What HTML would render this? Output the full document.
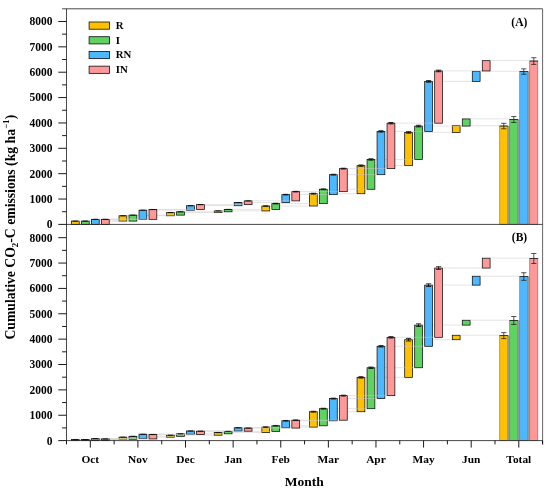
<!DOCTYPE html>
<html><head><meta charset="utf-8"><title>Cumulative CO2-C emissions</title>
<style>html,body{margin:0;padding:0;background:#fff}body{width:550px;height:494px;overflow:hidden}</style></head>
<body>
<svg width="550" height="494" viewBox="0 0 550 494" style="display:block">
<rect width="550" height="494" fill="#fff"/>
<g font-family="'Liberation Serif',serif" font-weight="bold" fill="#000">
<rect x="71.41" y="221.10" width="7.8" height="3.30" fill="#FFC000" stroke="#0d0d0d" stroke-width="0.75"/>
<rect x="119.01" y="215.78" width="7.8" height="5.33" fill="#FFC000" stroke="#0d0d0d" stroke-width="0.75"/>
<rect x="166.62" y="212.63" width="7.8" height="3.15" fill="#FFC000" stroke="#0d0d0d" stroke-width="0.75"/>
<rect x="214.23" y="210.93" width="7.8" height="1.70" fill="#FFC000" stroke="#0d0d0d" stroke-width="0.75"/>
<rect x="261.85" y="206.04" width="7.8" height="4.90" fill="#FFC000" stroke="#0d0d0d" stroke-width="0.75"/>
<rect x="309.46" y="193.71" width="7.8" height="12.33" fill="#FFC000" stroke="#0d0d0d" stroke-width="0.75"/>
<rect x="357.06" y="165.66" width="7.8" height="28.05" fill="#FFC000" stroke="#0d0d0d" stroke-width="0.75"/>
<rect x="404.68" y="132.43" width="7.8" height="33.23" fill="#FFC000" stroke="#0d0d0d" stroke-width="0.75"/>
<rect x="452.29" y="125.68" width="7.8" height="6.75" fill="#FFC000" stroke="#0d0d0d" stroke-width="0.75"/>
<rect x="507.85" y="126.04" width="1.90" height="98.36" fill="#a0a0a0"/>
<rect x="499.75" y="126.04" width="8.1" height="98.36" fill="#FFC000" stroke="#6a6a6a" stroke-width="0.6"/>
<line x1="499.45" x2="508.15" y1="126.04" y2="126.04" stroke="#1a1a1a" stroke-width="0.8"/>
<line x1="79.51" x2="118.71" y1="221.05" y2="221.05" stroke="#c8c8c8" stroke-opacity="0.62" stroke-width="0.8"/>
<line x1="127.11" x2="166.32" y1="215.73" y2="215.73" stroke="#c8c8c8" stroke-opacity="0.62" stroke-width="0.8"/>
<line x1="174.73" x2="213.93" y1="212.58" y2="212.58" stroke="#c8c8c8" stroke-opacity="0.62" stroke-width="0.8"/>
<line x1="222.34" x2="261.55" y1="210.88" y2="210.88" stroke="#c8c8c8" stroke-opacity="0.62" stroke-width="0.8"/>
<line x1="269.94" x2="309.16" y1="205.99" y2="205.99" stroke="#c8c8c8" stroke-opacity="0.62" stroke-width="0.8"/>
<line x1="317.56" x2="356.76" y1="193.66" y2="193.66" stroke="#c8c8c8" stroke-opacity="0.62" stroke-width="0.8"/>
<line x1="365.16" x2="404.38" y1="165.61" y2="165.61" stroke="#c8c8c8" stroke-opacity="0.62" stroke-width="0.8"/>
<line x1="412.77" x2="451.99" y1="132.38" y2="132.38" stroke="#c8c8c8" stroke-opacity="0.62" stroke-width="0.8"/>
<line x1="460.38" x2="499.60" y1="125.63" y2="125.63" stroke="#c8c8c8" stroke-opacity="0.62" stroke-width="0.8"/>
<rect x="81.41" y="221.10" width="7.8" height="3.30" fill="#5FD35F" stroke="#0d0d0d" stroke-width="0.75"/>
<rect x="129.01" y="215.14" width="7.8" height="5.96" fill="#5FD35F" stroke="#0d0d0d" stroke-width="0.75"/>
<rect x="176.62" y="211.82" width="7.8" height="3.32" fill="#5FD35F" stroke="#0d0d0d" stroke-width="0.75"/>
<rect x="224.23" y="209.43" width="7.8" height="2.38" fill="#5FD35F" stroke="#0d0d0d" stroke-width="0.75"/>
<rect x="271.85" y="203.65" width="7.8" height="5.78" fill="#5FD35F" stroke="#0d0d0d" stroke-width="0.75"/>
<rect x="319.46" y="189.27" width="7.8" height="14.38" fill="#5FD35F" stroke="#0d0d0d" stroke-width="0.75"/>
<rect x="367.06" y="159.47" width="7.8" height="29.80" fill="#5FD35F" stroke="#0d0d0d" stroke-width="0.75"/>
<rect x="414.68" y="126.09" width="7.8" height="33.38" fill="#5FD35F" stroke="#0d0d0d" stroke-width="0.75"/>
<rect x="462.29" y="118.93" width="7.8" height="7.15" fill="#5FD35F" stroke="#0d0d0d" stroke-width="0.75"/>
<rect x="517.85" y="119.52" width="1.90" height="104.88" fill="#a0a0a0"/>
<rect x="509.75" y="119.52" width="8.1" height="104.88" fill="#5FD35F" stroke="#6a6a6a" stroke-width="0.6"/>
<line x1="509.45" x2="518.14" y1="119.52" y2="119.52" stroke="#1a1a1a" stroke-width="0.8"/>
<line x1="89.51" x2="128.71" y1="221.05" y2="221.05" stroke="#c8c8c8" stroke-opacity="0.62" stroke-width="0.8"/>
<line x1="137.12" x2="176.32" y1="215.09" y2="215.09" stroke="#c8c8c8" stroke-opacity="0.62" stroke-width="0.8"/>
<line x1="184.73" x2="223.93" y1="211.77" y2="211.77" stroke="#c8c8c8" stroke-opacity="0.62" stroke-width="0.8"/>
<line x1="232.34" x2="271.55" y1="209.38" y2="209.38" stroke="#c8c8c8" stroke-opacity="0.62" stroke-width="0.8"/>
<line x1="279.94" x2="319.16" y1="203.60" y2="203.60" stroke="#c8c8c8" stroke-opacity="0.62" stroke-width="0.8"/>
<line x1="327.56" x2="366.76" y1="189.22" y2="189.22" stroke="#c8c8c8" stroke-opacity="0.62" stroke-width="0.8"/>
<line x1="375.16" x2="414.38" y1="159.42" y2="159.42" stroke="#c8c8c8" stroke-opacity="0.62" stroke-width="0.8"/>
<line x1="422.77" x2="461.99" y1="126.04" y2="126.04" stroke="#c8c8c8" stroke-opacity="0.62" stroke-width="0.8"/>
<line x1="470.38" x2="509.60" y1="118.88" y2="118.88" stroke="#c8c8c8" stroke-opacity="0.62" stroke-width="0.8"/>
<rect x="91.41" y="219.33" width="7.8" height="5.07" fill="#4DB8FF" stroke="#0d0d0d" stroke-width="0.75"/>
<rect x="139.01" y="210.20" width="7.8" height="9.13" fill="#4DB8FF" stroke="#0d0d0d" stroke-width="0.75"/>
<rect x="186.62" y="205.73" width="7.8" height="4.46" fill="#4DB8FF" stroke="#0d0d0d" stroke-width="0.75"/>
<rect x="234.23" y="202.59" width="7.8" height="3.15" fill="#4DB8FF" stroke="#0d0d0d" stroke-width="0.75"/>
<rect x="281.85" y="194.65" width="7.8" height="7.94" fill="#4DB8FF" stroke="#0d0d0d" stroke-width="0.75"/>
<rect x="329.46" y="174.69" width="7.8" height="19.96" fill="#4DB8FF" stroke="#0d0d0d" stroke-width="0.75"/>
<rect x="377.06" y="131.41" width="7.8" height="43.27" fill="#4DB8FF" stroke="#0d0d0d" stroke-width="0.75"/>
<rect x="424.68" y="81.39" width="7.8" height="50.02" fill="#4DB8FF" stroke="#0d0d0d" stroke-width="0.75"/>
<rect x="472.29" y="71.32" width="7.8" height="10.07" fill="#4DB8FF" stroke="#0d0d0d" stroke-width="0.75"/>
<rect x="527.85" y="71.55" width="1.90" height="152.85" fill="#a0a0a0"/>
<rect x="519.75" y="71.55" width="8.1" height="152.85" fill="#4DB8FF" stroke="#6a6a6a" stroke-width="0.6"/>
<line x1="519.45" x2="528.15" y1="71.55" y2="71.55" stroke="#1a1a1a" stroke-width="0.8"/>
<line x1="99.51" x2="138.71" y1="219.28" y2="219.28" stroke="#c8c8c8" stroke-opacity="0.62" stroke-width="0.8"/>
<line x1="147.12" x2="186.32" y1="210.15" y2="210.15" stroke="#c8c8c8" stroke-opacity="0.62" stroke-width="0.8"/>
<line x1="194.73" x2="233.93" y1="205.68" y2="205.68" stroke="#c8c8c8" stroke-opacity="0.62" stroke-width="0.8"/>
<line x1="242.34" x2="281.55" y1="202.54" y2="202.54" stroke="#c8c8c8" stroke-opacity="0.62" stroke-width="0.8"/>
<line x1="289.94" x2="329.16" y1="194.60" y2="194.60" stroke="#c8c8c8" stroke-opacity="0.62" stroke-width="0.8"/>
<line x1="337.56" x2="376.76" y1="174.64" y2="174.64" stroke="#c8c8c8" stroke-opacity="0.62" stroke-width="0.8"/>
<line x1="385.16" x2="424.38" y1="131.36" y2="131.36" stroke="#c8c8c8" stroke-opacity="0.62" stroke-width="0.8"/>
<line x1="432.77" x2="471.99" y1="81.34" y2="81.34" stroke="#c8c8c8" stroke-opacity="0.62" stroke-width="0.8"/>
<line x1="480.38" x2="519.60" y1="71.27" y2="71.27" stroke="#c8c8c8" stroke-opacity="0.62" stroke-width="0.8"/>
<rect x="101.41" y="219.33" width="7.8" height="5.07" fill="#FF9999" stroke="#0d0d0d" stroke-width="0.75"/>
<rect x="149.01" y="209.56" width="7.8" height="9.77" fill="#FF9999" stroke="#0d0d0d" stroke-width="0.75"/>
<rect x="196.62" y="204.64" width="7.8" height="4.92" fill="#FF9999" stroke="#0d0d0d" stroke-width="0.75"/>
<rect x="244.23" y="200.89" width="7.8" height="3.75" fill="#FF9999" stroke="#0d0d0d" stroke-width="0.75"/>
<rect x="291.85" y="191.65" width="7.8" height="9.23" fill="#FF9999" stroke="#0d0d0d" stroke-width="0.75"/>
<rect x="339.46" y="168.65" width="7.8" height="23.01" fill="#FF9999" stroke="#0d0d0d" stroke-width="0.75"/>
<rect x="387.06" y="123.19" width="7.8" height="45.45" fill="#FF9999" stroke="#0d0d0d" stroke-width="0.75"/>
<rect x="434.68" y="70.94" width="7.8" height="52.25" fill="#FF9999" stroke="#0d0d0d" stroke-width="0.75"/>
<rect x="482.29" y="60.67" width="7.8" height="10.27" fill="#FF9999" stroke="#0d0d0d" stroke-width="0.75"/>
<rect x="529.75" y="61.05" width="8.1" height="163.35" fill="#FF9999" stroke="#6a6a6a" stroke-width="0.6"/>
<line x1="529.45" x2="538.15" y1="61.05" y2="61.05" stroke="#1a1a1a" stroke-width="0.8"/>
<line x1="109.51" x2="148.71" y1="219.28" y2="219.28" stroke="#c8c8c8" stroke-opacity="0.62" stroke-width="0.8"/>
<line x1="157.12" x2="196.32" y1="209.51" y2="209.51" stroke="#c8c8c8" stroke-opacity="0.62" stroke-width="0.8"/>
<line x1="204.73" x2="243.93" y1="204.59" y2="204.59" stroke="#c8c8c8" stroke-opacity="0.62" stroke-width="0.8"/>
<line x1="252.34" x2="291.55" y1="200.84" y2="200.84" stroke="#c8c8c8" stroke-opacity="0.62" stroke-width="0.8"/>
<line x1="299.94" x2="339.16" y1="191.60" y2="191.60" stroke="#c8c8c8" stroke-opacity="0.62" stroke-width="0.8"/>
<line x1="347.56" x2="386.76" y1="168.60" y2="168.60" stroke="#c8c8c8" stroke-opacity="0.62" stroke-width="0.8"/>
<line x1="395.16" x2="434.38" y1="123.14" y2="123.14" stroke="#c8c8c8" stroke-opacity="0.62" stroke-width="0.8"/>
<line x1="442.77" x2="481.99" y1="70.89" y2="70.89" stroke="#c8c8c8" stroke-opacity="0.62" stroke-width="0.8"/>
<line x1="490.38" x2="529.60" y1="60.62" y2="60.62" stroke="#c8c8c8" stroke-opacity="0.62" stroke-width="0.8"/>
<path d="M75.31 221.00V221.20M72.71 221.00H77.91M72.71 221.20H77.91" stroke="#000" stroke-width="0.5" fill="none"/>
<path d="M122.91 215.66V215.90M120.31 215.66H125.51M120.31 215.90H125.51" stroke="#000" stroke-width="0.5" fill="none"/>
<path d="M170.53 212.48V212.78M167.93 212.48H173.12M167.93 212.78H173.12" stroke="#000" stroke-width="0.5" fill="none"/>
<path d="M218.13 210.78V211.08M215.53 210.78H220.73M215.53 211.08H220.73" stroke="#000" stroke-width="0.5" fill="none"/>
<path d="M265.75 205.69V206.39M263.14 205.69H268.35M263.14 206.39H268.35" stroke="#000" stroke-width="0.65" fill="none"/>
<path d="M313.36 193.21V194.21M310.75 193.21H315.96M310.75 194.21H315.96" stroke="#000" stroke-width="0.65" fill="none"/>
<path d="M360.96 164.96V166.35M358.36 164.96H363.56M358.36 166.35H363.56" stroke="#000" stroke-width="0.8" fill="none"/>
<path d="M408.57 131.63V133.23M405.97 131.63H411.18M405.97 133.23H411.18" stroke="#000" stroke-width="0.8" fill="none"/>
<path d="M503.80 123.32V128.75M501.20 123.32H506.40M501.20 128.75H506.40" stroke="#1c1c1c" stroke-width="0.75" fill="none"/>
<path d="M85.31 221.00V221.20M82.71 221.00H87.91M82.71 221.20H87.91" stroke="#000" stroke-width="0.5" fill="none"/>
<path d="M132.91 215.02V215.26M130.31 215.02H135.51M130.31 215.26H135.51" stroke="#000" stroke-width="0.5" fill="none"/>
<path d="M180.53 211.67V211.97M177.93 211.67H183.12M177.93 211.97H183.12" stroke="#000" stroke-width="0.5" fill="none"/>
<path d="M228.13 209.29V209.58M225.53 209.29H230.73M225.53 209.58H230.73" stroke="#000" stroke-width="0.5" fill="none"/>
<path d="M275.75 203.30V204.00M273.14 203.30H278.35M273.14 204.00H278.35" stroke="#000" stroke-width="0.65" fill="none"/>
<path d="M323.36 188.77V189.77M320.75 188.77H325.96M320.75 189.77H325.96" stroke="#000" stroke-width="0.65" fill="none"/>
<path d="M370.96 158.77V160.17M368.36 158.77H373.56M368.36 160.17H373.56" stroke="#000" stroke-width="0.8" fill="none"/>
<path d="M418.57 125.29V126.88M415.97 125.29H421.18M415.97 126.88H421.18" stroke="#000" stroke-width="0.8" fill="none"/>
<path d="M513.80 116.52V122.51M511.20 116.52H516.40M511.20 122.51H516.40" stroke="#1c1c1c" stroke-width="0.75" fill="none"/>
<path d="M95.31 219.23V219.43M92.71 219.23H97.91M92.71 219.43H97.91" stroke="#000" stroke-width="0.5" fill="none"/>
<path d="M142.91 210.08V210.32M140.31 210.08H145.51M140.31 210.32H145.51" stroke="#000" stroke-width="0.5" fill="none"/>
<path d="M190.53 205.58V205.88M187.93 205.58H193.12M187.93 205.88H193.12" stroke="#000" stroke-width="0.5" fill="none"/>
<path d="M238.13 202.44V202.74M235.53 202.44H240.73M235.53 202.74H240.73" stroke="#000" stroke-width="0.5" fill="none"/>
<path d="M285.75 194.30V195.00M283.14 194.30H288.35M283.14 195.00H288.35" stroke="#000" stroke-width="0.65" fill="none"/>
<path d="M333.36 174.19V175.18M330.75 174.19H335.96M330.75 175.18H335.96" stroke="#000" stroke-width="0.65" fill="none"/>
<path d="M380.96 130.71V132.11M378.36 130.71H383.56M378.36 132.11H383.56" stroke="#000" stroke-width="0.8" fill="none"/>
<path d="M428.57 80.60V82.19M425.97 80.60H431.18M425.97 82.19H431.18" stroke="#000" stroke-width="0.8" fill="none"/>
<path d="M523.80 68.84V74.27M521.20 68.84H526.40M521.20 74.27H526.40" stroke="#1c1c1c" stroke-width="0.75" fill="none"/>
<path d="M105.31 219.23V219.43M102.71 219.23H107.91M102.71 219.43H107.91" stroke="#000" stroke-width="0.5" fill="none"/>
<path d="M152.91 209.44V209.68M150.31 209.44H155.51M150.31 209.68H155.51" stroke="#000" stroke-width="0.5" fill="none"/>
<path d="M200.53 204.49V204.79M197.93 204.49H203.12M197.93 204.79H203.12" stroke="#000" stroke-width="0.5" fill="none"/>
<path d="M248.13 200.74V201.04M245.53 200.74H250.73M245.53 201.04H250.73" stroke="#000" stroke-width="0.5" fill="none"/>
<path d="M295.75 191.30V192.00M293.14 191.30H298.35M293.14 192.00H298.35" stroke="#000" stroke-width="0.65" fill="none"/>
<path d="M343.36 168.15V169.15M340.75 168.15H345.96M340.75 169.15H345.96" stroke="#000" stroke-width="0.65" fill="none"/>
<path d="M390.96 122.50V123.89M388.36 122.50H393.56M388.36 123.89H393.56" stroke="#000" stroke-width="0.8" fill="none"/>
<path d="M438.57 70.15V71.74M435.97 70.15H441.18M435.97 71.74H441.18" stroke="#000" stroke-width="0.8" fill="none"/>
<path d="M533.80 57.70V64.40M531.20 57.70H536.40M531.20 64.40H536.40" stroke="#1c1c1c" stroke-width="0.75" fill="none"/>
<rect x="71.41" y="439.58" width="7.8" height="1.02" fill="#FFC000" stroke="#0d0d0d" stroke-width="0.75"/>
<rect x="119.01" y="437.17" width="7.8" height="2.42" fill="#FFC000" stroke="#0d0d0d" stroke-width="0.75"/>
<rect x="166.62" y="435.21" width="7.8" height="1.96" fill="#FFC000" stroke="#0d0d0d" stroke-width="0.75"/>
<rect x="214.23" y="432.59" width="7.8" height="2.62" fill="#FFC000" stroke="#0d0d0d" stroke-width="0.75"/>
<rect x="261.85" y="427.09" width="7.8" height="5.49" fill="#FFC000" stroke="#0d0d0d" stroke-width="0.75"/>
<rect x="309.46" y="411.73" width="7.8" height="15.36" fill="#FFC000" stroke="#0d0d0d" stroke-width="0.75"/>
<rect x="357.06" y="377.37" width="7.8" height="34.36" fill="#FFC000" stroke="#0d0d0d" stroke-width="0.75"/>
<rect x="404.68" y="339.72" width="7.8" height="37.64" fill="#FFC000" stroke="#0d0d0d" stroke-width="0.75"/>
<rect x="452.29" y="335.25" width="7.8" height="4.48" fill="#FFC000" stroke="#0d0d0d" stroke-width="0.75"/>
<rect x="507.85" y="335.60" width="1.90" height="105.00" fill="#a0a0a0"/>
<rect x="499.75" y="335.60" width="8.1" height="105.00" fill="#FFC000" stroke="#6a6a6a" stroke-width="0.6"/>
<line x1="499.45" x2="508.15" y1="335.60" y2="335.60" stroke="#1a1a1a" stroke-width="0.8"/>
<line x1="79.51" x2="118.71" y1="439.53" y2="439.53" stroke="#c8c8c8" stroke-opacity="0.62" stroke-width="0.8"/>
<line x1="127.11" x2="166.32" y1="437.12" y2="437.12" stroke="#c8c8c8" stroke-opacity="0.62" stroke-width="0.8"/>
<line x1="174.73" x2="213.93" y1="435.16" y2="435.16" stroke="#c8c8c8" stroke-opacity="0.62" stroke-width="0.8"/>
<line x1="222.34" x2="261.55" y1="432.54" y2="432.54" stroke="#c8c8c8" stroke-opacity="0.62" stroke-width="0.8"/>
<line x1="269.94" x2="309.16" y1="427.04" y2="427.04" stroke="#c8c8c8" stroke-opacity="0.62" stroke-width="0.8"/>
<line x1="317.56" x2="356.76" y1="411.68" y2="411.68" stroke="#c8c8c8" stroke-opacity="0.62" stroke-width="0.8"/>
<line x1="365.16" x2="404.38" y1="377.32" y2="377.32" stroke="#c8c8c8" stroke-opacity="0.62" stroke-width="0.8"/>
<line x1="412.77" x2="451.99" y1="339.67" y2="339.67" stroke="#c8c8c8" stroke-opacity="0.62" stroke-width="0.8"/>
<line x1="460.38" x2="499.60" y1="335.20" y2="335.20" stroke="#c8c8c8" stroke-opacity="0.62" stroke-width="0.8"/>
<rect x="81.41" y="439.58" width="7.8" height="1.02" fill="#5FD35F" stroke="#0d0d0d" stroke-width="0.75"/>
<rect x="129.01" y="436.33" width="7.8" height="3.26" fill="#5FD35F" stroke="#0d0d0d" stroke-width="0.75"/>
<rect x="176.62" y="433.81" width="7.8" height="2.52" fill="#5FD35F" stroke="#0d0d0d" stroke-width="0.75"/>
<rect x="224.23" y="431.39" width="7.8" height="2.42" fill="#5FD35F" stroke="#0d0d0d" stroke-width="0.75"/>
<rect x="271.85" y="425.80" width="7.8" height="5.60" fill="#5FD35F" stroke="#0d0d0d" stroke-width="0.75"/>
<rect x="319.46" y="408.68" width="7.8" height="17.12" fill="#5FD35F" stroke="#0d0d0d" stroke-width="0.75"/>
<rect x="367.06" y="367.75" width="7.8" height="40.93" fill="#5FD35F" stroke="#0d0d0d" stroke-width="0.75"/>
<rect x="414.68" y="325.12" width="7.8" height="42.63" fill="#5FD35F" stroke="#0d0d0d" stroke-width="0.75"/>
<rect x="462.29" y="320.24" width="7.8" height="4.88" fill="#5FD35F" stroke="#0d0d0d" stroke-width="0.75"/>
<rect x="517.85" y="320.49" width="1.90" height="120.11" fill="#a0a0a0"/>
<rect x="509.75" y="320.49" width="8.1" height="120.11" fill="#5FD35F" stroke="#6a6a6a" stroke-width="0.6"/>
<line x1="509.45" x2="518.14" y1="320.49" y2="320.49" stroke="#1a1a1a" stroke-width="0.8"/>
<line x1="89.51" x2="128.71" y1="439.53" y2="439.53" stroke="#c8c8c8" stroke-opacity="0.62" stroke-width="0.8"/>
<line x1="137.12" x2="176.32" y1="436.28" y2="436.28" stroke="#c8c8c8" stroke-opacity="0.62" stroke-width="0.8"/>
<line x1="184.73" x2="223.93" y1="433.76" y2="433.76" stroke="#c8c8c8" stroke-opacity="0.62" stroke-width="0.8"/>
<line x1="232.34" x2="271.55" y1="431.34" y2="431.34" stroke="#c8c8c8" stroke-opacity="0.62" stroke-width="0.8"/>
<line x1="279.94" x2="319.16" y1="425.75" y2="425.75" stroke="#c8c8c8" stroke-opacity="0.62" stroke-width="0.8"/>
<line x1="327.56" x2="366.76" y1="408.63" y2="408.63" stroke="#c8c8c8" stroke-opacity="0.62" stroke-width="0.8"/>
<line x1="375.16" x2="414.38" y1="367.70" y2="367.70" stroke="#c8c8c8" stroke-opacity="0.62" stroke-width="0.8"/>
<line x1="422.77" x2="461.99" y1="325.07" y2="325.07" stroke="#c8c8c8" stroke-opacity="0.62" stroke-width="0.8"/>
<line x1="470.38" x2="509.60" y1="320.19" y2="320.19" stroke="#c8c8c8" stroke-opacity="0.62" stroke-width="0.8"/>
<rect x="91.41" y="438.69" width="7.8" height="1.91" fill="#4DB8FF" stroke="#0d0d0d" stroke-width="0.75"/>
<rect x="139.01" y="434.24" width="7.8" height="4.45" fill="#4DB8FF" stroke="#0d0d0d" stroke-width="0.75"/>
<rect x="186.62" y="430.99" width="7.8" height="3.26" fill="#4DB8FF" stroke="#0d0d0d" stroke-width="0.75"/>
<rect x="234.23" y="427.78" width="7.8" height="3.20" fill="#4DB8FF" stroke="#0d0d0d" stroke-width="0.75"/>
<rect x="281.85" y="420.79" width="7.8" height="6.99" fill="#4DB8FF" stroke="#0d0d0d" stroke-width="0.75"/>
<rect x="329.46" y="398.58" width="7.8" height="22.21" fill="#4DB8FF" stroke="#0d0d0d" stroke-width="0.75"/>
<rect x="377.06" y="346.29" width="7.8" height="52.29" fill="#4DB8FF" stroke="#0d0d0d" stroke-width="0.75"/>
<rect x="424.68" y="285.14" width="7.8" height="61.15" fill="#4DB8FF" stroke="#0d0d0d" stroke-width="0.75"/>
<rect x="472.29" y="276.24" width="7.8" height="8.90" fill="#4DB8FF" stroke="#0d0d0d" stroke-width="0.75"/>
<rect x="527.85" y="276.54" width="1.90" height="164.06" fill="#a0a0a0"/>
<rect x="519.75" y="276.54" width="8.1" height="164.06" fill="#4DB8FF" stroke="#6a6a6a" stroke-width="0.6"/>
<line x1="519.45" x2="528.15" y1="276.54" y2="276.54" stroke="#1a1a1a" stroke-width="0.8"/>
<line x1="99.51" x2="138.71" y1="438.64" y2="438.64" stroke="#c8c8c8" stroke-opacity="0.62" stroke-width="0.8"/>
<line x1="147.12" x2="186.32" y1="434.19" y2="434.19" stroke="#c8c8c8" stroke-opacity="0.62" stroke-width="0.8"/>
<line x1="194.73" x2="233.93" y1="430.94" y2="430.94" stroke="#c8c8c8" stroke-opacity="0.62" stroke-width="0.8"/>
<line x1="242.34" x2="281.55" y1="427.73" y2="427.73" stroke="#c8c8c8" stroke-opacity="0.62" stroke-width="0.8"/>
<line x1="289.94" x2="329.16" y1="420.74" y2="420.74" stroke="#c8c8c8" stroke-opacity="0.62" stroke-width="0.8"/>
<line x1="337.56" x2="376.76" y1="398.53" y2="398.53" stroke="#c8c8c8" stroke-opacity="0.62" stroke-width="0.8"/>
<line x1="385.16" x2="424.38" y1="346.24" y2="346.24" stroke="#c8c8c8" stroke-opacity="0.62" stroke-width="0.8"/>
<line x1="432.77" x2="471.99" y1="285.09" y2="285.09" stroke="#c8c8c8" stroke-opacity="0.62" stroke-width="0.8"/>
<line x1="480.38" x2="519.60" y1="276.19" y2="276.19" stroke="#c8c8c8" stroke-opacity="0.62" stroke-width="0.8"/>
<rect x="101.41" y="438.95" width="7.8" height="1.65" fill="#FF9999" stroke="#0d0d0d" stroke-width="0.75"/>
<rect x="149.01" y="434.50" width="7.8" height="4.45" fill="#FF9999" stroke="#0d0d0d" stroke-width="0.75"/>
<rect x="196.62" y="431.19" width="7.8" height="3.31" fill="#FF9999" stroke="#0d0d0d" stroke-width="0.75"/>
<rect x="244.23" y="428.09" width="7.8" height="3.10" fill="#FF9999" stroke="#0d0d0d" stroke-width="0.75"/>
<rect x="291.85" y="420.20" width="7.8" height="7.88" fill="#FF9999" stroke="#0d0d0d" stroke-width="0.75"/>
<rect x="339.46" y="395.63" width="7.8" height="24.57" fill="#FF9999" stroke="#0d0d0d" stroke-width="0.75"/>
<rect x="387.06" y="337.33" width="7.8" height="58.30" fill="#FF9999" stroke="#0d0d0d" stroke-width="0.75"/>
<rect x="434.68" y="268.07" width="7.8" height="69.26" fill="#FF9999" stroke="#0d0d0d" stroke-width="0.75"/>
<rect x="482.29" y="258.18" width="7.8" height="9.89" fill="#FF9999" stroke="#0d0d0d" stroke-width="0.75"/>
<rect x="529.75" y="258.48" width="8.1" height="182.12" fill="#FF9999" stroke="#6a6a6a" stroke-width="0.6"/>
<line x1="529.45" x2="538.15" y1="258.48" y2="258.48" stroke="#1a1a1a" stroke-width="0.8"/>
<line x1="109.51" x2="148.71" y1="438.90" y2="438.90" stroke="#c8c8c8" stroke-opacity="0.62" stroke-width="0.8"/>
<line x1="157.12" x2="196.32" y1="434.45" y2="434.45" stroke="#c8c8c8" stroke-opacity="0.62" stroke-width="0.8"/>
<line x1="204.73" x2="243.93" y1="431.14" y2="431.14" stroke="#c8c8c8" stroke-opacity="0.62" stroke-width="0.8"/>
<line x1="252.34" x2="291.55" y1="428.04" y2="428.04" stroke="#c8c8c8" stroke-opacity="0.62" stroke-width="0.8"/>
<line x1="299.94" x2="339.16" y1="420.15" y2="420.15" stroke="#c8c8c8" stroke-opacity="0.62" stroke-width="0.8"/>
<line x1="347.56" x2="386.76" y1="395.58" y2="395.58" stroke="#c8c8c8" stroke-opacity="0.62" stroke-width="0.8"/>
<line x1="395.16" x2="434.38" y1="337.28" y2="337.28" stroke="#c8c8c8" stroke-opacity="0.62" stroke-width="0.8"/>
<line x1="442.77" x2="481.99" y1="268.02" y2="268.02" stroke="#c8c8c8" stroke-opacity="0.62" stroke-width="0.8"/>
<line x1="490.38" x2="529.60" y1="258.13" y2="258.13" stroke="#c8c8c8" stroke-opacity="0.62" stroke-width="0.8"/>
<path d="M75.31 439.48V439.68M72.71 439.48H77.91M72.71 439.68H77.91" stroke="#000" stroke-width="0.5" fill="none"/>
<path d="M122.91 437.05V437.29M120.31 437.05H125.51M120.31 437.29H125.51" stroke="#000" stroke-width="0.5" fill="none"/>
<path d="M170.53 435.06V435.36M167.93 435.06H173.12M167.93 435.36H173.12" stroke="#000" stroke-width="0.5" fill="none"/>
<path d="M218.13 432.44V432.74M215.53 432.44H220.73M215.53 432.74H220.73" stroke="#000" stroke-width="0.5" fill="none"/>
<path d="M265.75 426.74V427.44M263.14 426.74H268.35M263.14 427.44H268.35" stroke="#000" stroke-width="0.65" fill="none"/>
<path d="M313.36 411.23V412.23M310.75 411.23H315.96M310.75 412.23H315.96" stroke="#000" stroke-width="0.65" fill="none"/>
<path d="M360.96 376.67V378.07M358.36 376.67H363.56M358.36 378.07H363.56" stroke="#000" stroke-width="0.8" fill="none"/>
<path d="M408.57 338.43V341.02M405.97 338.43H411.18M405.97 341.02H411.18" stroke="#000" stroke-width="0.8" fill="none"/>
<path d="M503.80 332.61V338.60M501.20 332.61H506.40M501.20 338.60H506.40" stroke="#1c1c1c" stroke-width="0.75" fill="none"/>
<path d="M85.31 439.48V439.68M82.71 439.48H87.91M82.71 439.68H87.91" stroke="#000" stroke-width="0.5" fill="none"/>
<path d="M132.91 436.21V436.45M130.31 436.21H135.51M130.31 436.45H135.51" stroke="#000" stroke-width="0.5" fill="none"/>
<path d="M180.53 433.66V433.96M177.93 433.66H183.12M177.93 433.96H183.12" stroke="#000" stroke-width="0.5" fill="none"/>
<path d="M228.13 431.24V431.54M225.53 431.24H230.73M225.53 431.54H230.73" stroke="#000" stroke-width="0.5" fill="none"/>
<path d="M275.75 425.45V426.15M273.14 425.45H278.35M273.14 426.15H278.35" stroke="#000" stroke-width="0.65" fill="none"/>
<path d="M323.36 408.18V409.18M320.75 408.18H325.96M320.75 409.18H325.96" stroke="#000" stroke-width="0.65" fill="none"/>
<path d="M370.96 367.05V368.45M368.36 367.05H373.56M368.36 368.45H373.56" stroke="#000" stroke-width="0.8" fill="none"/>
<path d="M418.57 323.83V326.42M415.97 323.83H421.18M415.97 326.42H421.18" stroke="#000" stroke-width="0.8" fill="none"/>
<path d="M513.80 316.51V324.48M511.20 316.51H516.40M511.20 324.48H516.40" stroke="#1c1c1c" stroke-width="0.75" fill="none"/>
<path d="M95.31 438.59V438.79M92.71 438.59H97.91M92.71 438.79H97.91" stroke="#000" stroke-width="0.5" fill="none"/>
<path d="M142.91 434.12V434.36M140.31 434.12H145.51M140.31 434.36H145.51" stroke="#000" stroke-width="0.5" fill="none"/>
<path d="M190.53 430.84V431.14M187.93 430.84H193.12M187.93 431.14H193.12" stroke="#000" stroke-width="0.5" fill="none"/>
<path d="M238.13 427.63V427.93M235.53 427.63H240.73M235.53 427.93H240.73" stroke="#000" stroke-width="0.5" fill="none"/>
<path d="M285.75 420.44V421.14M283.14 420.44H288.35M283.14 421.14H288.35" stroke="#000" stroke-width="0.65" fill="none"/>
<path d="M333.36 398.08V399.08M330.75 398.08H335.96M330.75 399.08H335.96" stroke="#000" stroke-width="0.65" fill="none"/>
<path d="M380.96 345.59V346.98M378.36 345.59H383.56M378.36 346.98H383.56" stroke="#000" stroke-width="0.8" fill="none"/>
<path d="M428.57 283.84V286.44M425.97 283.84H431.18M425.97 286.44H431.18" stroke="#000" stroke-width="0.8" fill="none"/>
<path d="M523.80 272.74V280.35M521.20 272.74H526.40M521.20 280.35H526.40" stroke="#1c1c1c" stroke-width="0.75" fill="none"/>
<path d="M105.31 438.85V439.05M102.71 438.85H107.91M102.71 439.05H107.91" stroke="#000" stroke-width="0.5" fill="none"/>
<path d="M152.91 434.38V434.62M150.31 434.38H155.51M150.31 434.62H155.51" stroke="#000" stroke-width="0.5" fill="none"/>
<path d="M200.53 431.04V431.34M197.93 431.04H203.12M197.93 431.34H203.12" stroke="#000" stroke-width="0.5" fill="none"/>
<path d="M248.13 427.94V428.24M245.53 427.94H250.73M245.53 428.24H250.73" stroke="#000" stroke-width="0.5" fill="none"/>
<path d="M295.75 419.85V420.55M293.14 419.85H298.35M293.14 420.55H298.35" stroke="#000" stroke-width="0.65" fill="none"/>
<path d="M343.36 395.13V396.13M340.75 395.13H345.96M340.75 396.13H345.96" stroke="#000" stroke-width="0.65" fill="none"/>
<path d="M390.96 336.63V338.03M388.36 336.63H393.56M388.36 338.03H393.56" stroke="#000" stroke-width="0.8" fill="none"/>
<path d="M438.57 266.77V269.37M435.97 266.77H441.18M435.97 269.37H441.18" stroke="#000" stroke-width="0.8" fill="none"/>
<path d="M533.80 253.49V263.48M531.20 253.49H536.40M531.20 263.48H536.40" stroke="#1c1c1c" stroke-width="0.75" fill="none"/>
<path d="M62.1 8.8H542.6" fill="none" stroke="#4c4c4c" stroke-width="1"/>
<path d="M542.6 8.8V444.40000000000003" fill="none" stroke="#555" stroke-width="0.9"/>
<path d="M66.5 8.8V440.6H542.6M66.5 224.4H542.6" fill="none" stroke="#262626" stroke-width="0.85"/>
<line x1="58.3" x2="66.5" y1="224.40" y2="224.40" stroke="#000" stroke-width="0.9"/>
<text x="52.6" y="228.30" font-size="11.5" text-anchor="end">0</text>
<line x1="62.1" x2="66.5" y1="211.72" y2="211.72" stroke="#000" stroke-width="0.9"/>
<line x1="58.3" x2="66.5" y1="199.04" y2="199.04" stroke="#000" stroke-width="0.9"/>
<text x="52.6" y="202.94" font-size="11.5" text-anchor="end">1000</text>
<line x1="62.1" x2="66.5" y1="186.35" y2="186.35" stroke="#000" stroke-width="0.9"/>
<line x1="58.3" x2="66.5" y1="173.67" y2="173.67" stroke="#000" stroke-width="0.9"/>
<text x="52.6" y="177.57" font-size="11.5" text-anchor="end">2000</text>
<line x1="62.1" x2="66.5" y1="160.99" y2="160.99" stroke="#000" stroke-width="0.9"/>
<line x1="58.3" x2="66.5" y1="148.31" y2="148.31" stroke="#000" stroke-width="0.9"/>
<text x="52.6" y="152.21" font-size="11.5" text-anchor="end">3000</text>
<line x1="62.1" x2="66.5" y1="135.62" y2="135.62" stroke="#000" stroke-width="0.9"/>
<line x1="58.3" x2="66.5" y1="122.94" y2="122.94" stroke="#000" stroke-width="0.9"/>
<text x="52.6" y="126.84" font-size="11.5" text-anchor="end">4000</text>
<line x1="62.1" x2="66.5" y1="110.26" y2="110.26" stroke="#000" stroke-width="0.9"/>
<line x1="58.3" x2="66.5" y1="97.58" y2="97.58" stroke="#000" stroke-width="0.9"/>
<text x="52.6" y="101.48" font-size="11.5" text-anchor="end">5000</text>
<line x1="62.1" x2="66.5" y1="84.89" y2="84.89" stroke="#000" stroke-width="0.9"/>
<line x1="58.3" x2="66.5" y1="72.21" y2="72.21" stroke="#000" stroke-width="0.9"/>
<text x="52.6" y="76.11" font-size="11.5" text-anchor="end">6000</text>
<line x1="62.1" x2="66.5" y1="59.53" y2="59.53" stroke="#000" stroke-width="0.9"/>
<line x1="58.3" x2="66.5" y1="46.85" y2="46.85" stroke="#000" stroke-width="0.9"/>
<text x="52.6" y="50.75" font-size="11.5" text-anchor="end">7000</text>
<line x1="62.1" x2="66.5" y1="34.16" y2="34.16" stroke="#000" stroke-width="0.9"/>
<line x1="58.3" x2="66.5" y1="21.48" y2="21.48" stroke="#000" stroke-width="0.9"/>
<text x="52.6" y="25.38" font-size="11.5" text-anchor="end">8000</text>
<line x1="58.3" x2="66.5" y1="440.60" y2="440.60" stroke="#000" stroke-width="0.9"/>
<text x="52.6" y="444.50" font-size="11.5" text-anchor="end">0</text>
<line x1="62.1" x2="66.5" y1="427.92" y2="427.92" stroke="#000" stroke-width="0.9"/>
<line x1="58.3" x2="66.5" y1="415.24" y2="415.24" stroke="#000" stroke-width="0.9"/>
<text x="52.6" y="419.14" font-size="11.5" text-anchor="end">1000</text>
<line x1="62.1" x2="66.5" y1="402.55" y2="402.55" stroke="#000" stroke-width="0.9"/>
<line x1="58.3" x2="66.5" y1="389.87" y2="389.87" stroke="#000" stroke-width="0.9"/>
<text x="52.6" y="393.77" font-size="11.5" text-anchor="end">2000</text>
<line x1="62.1" x2="66.5" y1="377.19" y2="377.19" stroke="#000" stroke-width="0.9"/>
<line x1="58.3" x2="66.5" y1="364.51" y2="364.51" stroke="#000" stroke-width="0.9"/>
<text x="52.6" y="368.41" font-size="11.5" text-anchor="end">3000</text>
<line x1="62.1" x2="66.5" y1="351.82" y2="351.82" stroke="#000" stroke-width="0.9"/>
<line x1="58.3" x2="66.5" y1="339.14" y2="339.14" stroke="#000" stroke-width="0.9"/>
<text x="52.6" y="343.04" font-size="11.5" text-anchor="end">4000</text>
<line x1="62.1" x2="66.5" y1="326.46" y2="326.46" stroke="#000" stroke-width="0.9"/>
<line x1="58.3" x2="66.5" y1="313.78" y2="313.78" stroke="#000" stroke-width="0.9"/>
<text x="52.6" y="317.68" font-size="11.5" text-anchor="end">5000</text>
<line x1="62.1" x2="66.5" y1="301.09" y2="301.09" stroke="#000" stroke-width="0.9"/>
<line x1="58.3" x2="66.5" y1="288.41" y2="288.41" stroke="#000" stroke-width="0.9"/>
<text x="52.6" y="292.31" font-size="11.5" text-anchor="end">6000</text>
<line x1="62.1" x2="66.5" y1="275.73" y2="275.73" stroke="#000" stroke-width="0.9"/>
<line x1="58.3" x2="66.5" y1="263.05" y2="263.05" stroke="#000" stroke-width="0.9"/>
<text x="52.6" y="266.95" font-size="11.5" text-anchor="end">7000</text>
<line x1="62.1" x2="66.5" y1="250.36" y2="250.36" stroke="#000" stroke-width="0.9"/>
<line x1="58.3" x2="66.5" y1="237.68" y2="237.68" stroke="#000" stroke-width="0.9"/>
<text x="52.6" y="241.58" font-size="11.5" text-anchor="end">8000</text>
<line x1="90.31" x2="90.31" y1="440.6" y2="447.6" stroke="#000" stroke-width="0.9"/>
<text x="90.31" y="463.3" font-size="11.4" text-anchor="middle">Oct</text>
<line x1="137.91" x2="137.91" y1="440.6" y2="447.6" stroke="#000" stroke-width="0.9"/>
<text x="137.91" y="463.3" font-size="11.4" text-anchor="middle">Nov</text>
<line x1="185.53" x2="185.53" y1="440.6" y2="447.6" stroke="#000" stroke-width="0.9"/>
<text x="185.53" y="463.3" font-size="11.4" text-anchor="middle">Dec</text>
<line x1="233.13" x2="233.13" y1="440.6" y2="447.6" stroke="#000" stroke-width="0.9"/>
<text x="233.13" y="463.3" font-size="11.4" text-anchor="middle">Jan</text>
<line x1="280.75" x2="280.75" y1="440.6" y2="447.6" stroke="#000" stroke-width="0.9"/>
<text x="280.75" y="463.3" font-size="11.4" text-anchor="middle">Feb</text>
<line x1="328.36" x2="328.36" y1="440.6" y2="447.6" stroke="#000" stroke-width="0.9"/>
<text x="328.36" y="463.3" font-size="11.4" text-anchor="middle">Mar</text>
<line x1="375.96" x2="375.96" y1="440.6" y2="447.6" stroke="#000" stroke-width="0.9"/>
<text x="375.96" y="463.3" font-size="11.4" text-anchor="middle">Apr</text>
<line x1="423.57" x2="423.57" y1="440.6" y2="447.6" stroke="#000" stroke-width="0.9"/>
<text x="423.57" y="463.3" font-size="11.4" text-anchor="middle">May</text>
<line x1="471.19" x2="471.19" y1="440.6" y2="447.6" stroke="#000" stroke-width="0.9"/>
<text x="471.19" y="463.3" font-size="11.4" text-anchor="middle">Jun</text>
<line x1="518.80" x2="518.80" y1="440.6" y2="447.6" stroke="#000" stroke-width="0.9"/>
<text x="518.80" y="463.3" font-size="11.4" text-anchor="middle">Total</text>
<line x1="66.50" x2="66.50" y1="440.6" y2="444.40000000000003" stroke="#000" stroke-width="0.9"/>
<line x1="114.11" x2="114.11" y1="440.6" y2="444.40000000000003" stroke="#000" stroke-width="0.9"/>
<line x1="161.72" x2="161.72" y1="440.6" y2="444.40000000000003" stroke="#000" stroke-width="0.9"/>
<line x1="209.33" x2="209.33" y1="440.6" y2="444.40000000000003" stroke="#000" stroke-width="0.9"/>
<line x1="256.94" x2="256.94" y1="440.6" y2="444.40000000000003" stroke="#000" stroke-width="0.9"/>
<line x1="304.55" x2="304.55" y1="440.6" y2="444.40000000000003" stroke="#000" stroke-width="0.9"/>
<line x1="352.16" x2="352.16" y1="440.6" y2="444.40000000000003" stroke="#000" stroke-width="0.9"/>
<line x1="399.77" x2="399.77" y1="440.6" y2="444.40000000000003" stroke="#000" stroke-width="0.9"/>
<line x1="447.38" x2="447.38" y1="440.6" y2="444.40000000000003" stroke="#000" stroke-width="0.9"/>
<line x1="494.99" x2="494.99" y1="440.6" y2="444.40000000000003" stroke="#000" stroke-width="0.9"/>
<line x1="542.60" x2="542.60" y1="440.6" y2="444.40000000000003" stroke="#000" stroke-width="0.9"/>
<text x="304.3" y="486.0" font-size="13.5" text-anchor="middle">Month</text>
<text transform="translate(15.1,227.2) rotate(-90)" font-size="13.7" text-anchor="middle">Cumulative CO<tspan font-size="9" dy="3">2</tspan><tspan dy="-3">-C emissions (kg ha</tspan><tspan font-size="9" dy="-6.2">−1</tspan><tspan dy="6.2">)</tspan></text>
<text x="511.3" y="25.7" font-size="11.5">(A)</text>
<text x="511.8" y="240.5" font-size="11.5">(B)</text>
<rect x="89.1" y="22.00" width="20.4" height="7.2" fill="#FFC000" stroke="#0d0d0d" stroke-width="0.8"/>
<text x="115.8" y="28.85" font-size="10.8">R</text>
<rect x="89.1" y="36.72" width="20.4" height="7.2" fill="#5FD35F" stroke="#0d0d0d" stroke-width="0.8"/>
<text x="115.8" y="43.57" font-size="10.8">I</text>
<rect x="89.1" y="51.44" width="20.4" height="7.2" fill="#4DB8FF" stroke="#0d0d0d" stroke-width="0.8"/>
<text x="115.8" y="58.29" font-size="10.8">RN</text>
<rect x="89.1" y="66.16" width="20.4" height="7.2" fill="#FF9999" stroke="#0d0d0d" stroke-width="0.8"/>
<text x="115.8" y="73.01" font-size="10.8">IN</text>
</g></svg>
</body></html>
